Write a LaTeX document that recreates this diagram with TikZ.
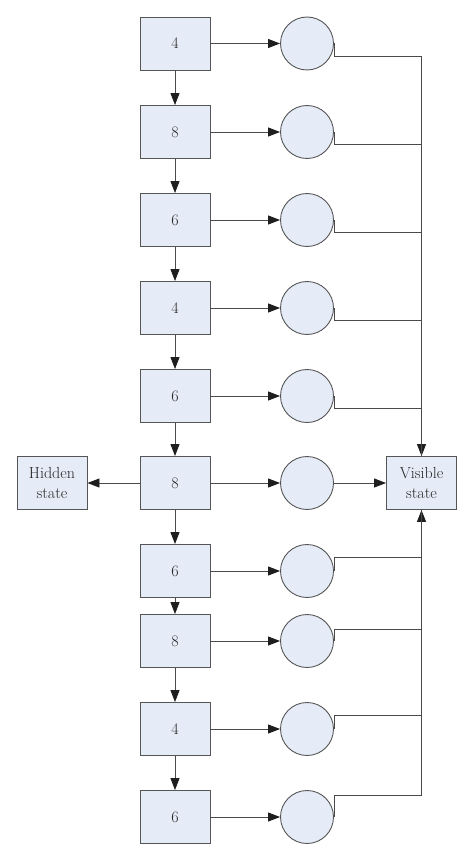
\documentclass[tikz,border=0pt]{standalone}
\usetikzlibrary{arrows.meta}
\definecolor{boxfill}{HTML}{E6ECF7}
\definecolor{boxline}{HTML}{555555}
\definecolor{wire}{HTML}{4A4A4A}
\definecolor{tipcol}{HTML}{1E1E1E}
\begin{document}
\begin{tikzpicture}[x=1pt,y=-1pt,
  box/.style={draw=boxline, fill=boxfill, line width=0.9pt, minimum width=70pt, minimum height=53pt,
    inner sep=0pt, align=center, font=\fontsize{16}{19.3}\selectfont, text=black!85},
  circ/.style={circle, draw=boxline, fill=boxfill, line width=0.9pt, minimum size=53pt, inner sep=0pt},
  wireline/.style={draw=wire, line width=0.9pt},
  arr/.style={wireline, -{Triangle[length=12pt,width=9pt,fill=tipcol,color=tipcol]}}]
\useasboundingbox (0,0) rectangle (474,861);
\foreach \i/\yy/\t in {1/43.5/4, 2/132/8, 3/220/6, 4/308/4, 5/396/6, 6/483/8, 7/571/6, 8/641/8, 9/729/4, 10/817/6}{
  \node[box] (b\i) at (175,\yy) {\t};
  \node[circ] (c\i) at (307,\yy) {};
  \draw[arr] (b\i) -- (c\i);
}
\node[box] (hid) at (52,483) {Hidden\\state};
\node[box] (vis) at (421.5,483) {Visible\\state};
\foreach \i/\j in {1/2,2/3,3/4,4/5,5/6,6/7,7/8,8/9,9/10}{
  \draw[arr] (b\i) -- (b\j);
}
\draw[arr] (b6) -- (hid);
\draw[arr] (c6) -- (vis);
% top collectors
\draw[arr] (c1.east) -- ++(0,13) -| (vis.north);
\foreach \i in {2,3,4,5}{
  \draw[wireline] (c\i.east) -- ++(0,12.5) -| (vis.north);
}
% bottom collectors
\draw[arr] (c10.east) -- ++(0,-22) -| (vis.south);
\foreach \i/\d in {7/-14,8/-12,9/-14}{
  \draw[wireline] (c\i.east) -- ++(0,\d) -| (vis.south);
}
\end{tikzpicture}
\end{document}
